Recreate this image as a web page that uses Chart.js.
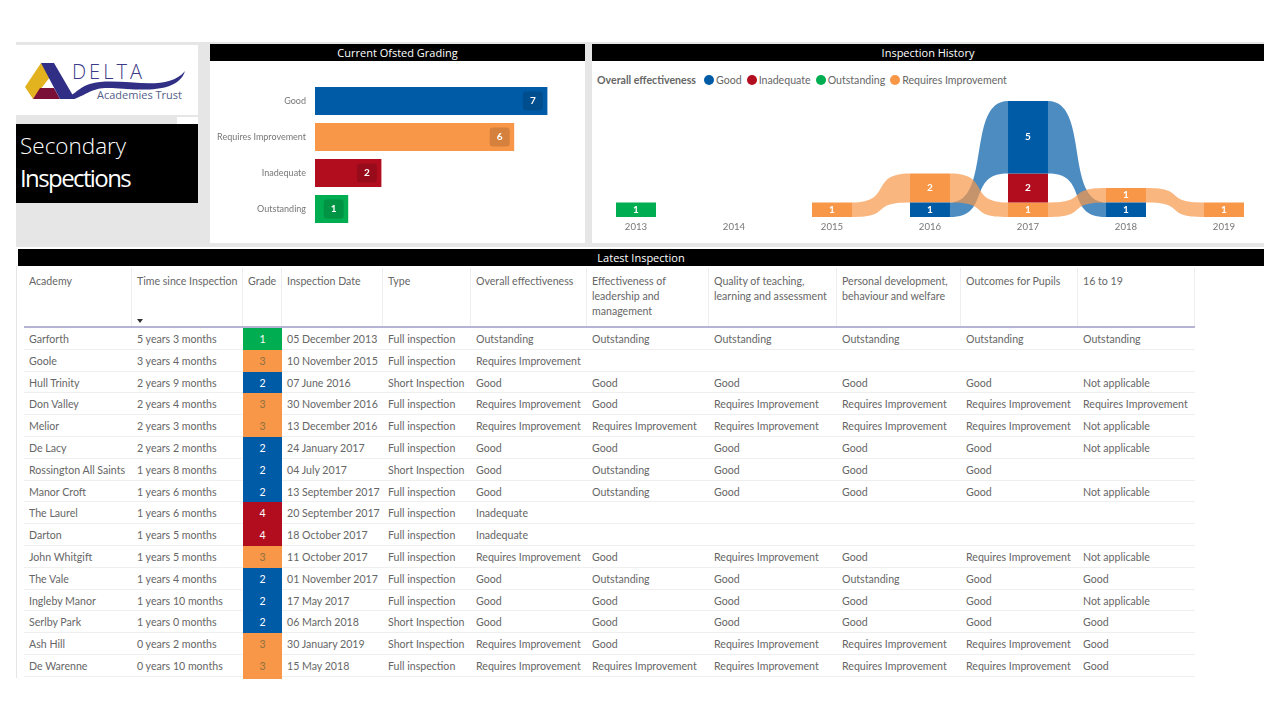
<!DOCTYPE html>
<html lang="en">
<head>
<meta charset="UTF-8">
<title>Secondary Inspections</title>
<script src="https://cdn.jsdelivr.net/npm/chart.js"></script>
<style>
  html, body { margin: 0; background: #fff; }
  body { width: 1280px; height: 720px; overflow: hidden; position: relative; font-family: "Lato", sans-serif; color: #666; }
  .box { position: absolute; }
  .bar-title { background: #000; color: #fff; font-family: "Open Sans", sans-serif; font-size: 11px; text-align: center; height: 17px; line-height: 17px; }
  canvas { position: absolute; }
  #legend { position: absolute; left: 597px; top: 72px; height: 16px; line-height: 16px; font-size: 10.6px; color: #666; white-space: nowrap; }
  #legend b { font-weight: 700; margin-right: 8px; }
  #legend i { display: inline-block; width: 10px; height: 10px; border-radius: 50%; margin: 0 2px 0 0; vertical-align: -1px; }
  #legend span { margin-right: 5px; }
  #tbl { position: absolute; left: 24px; top: 268px; width: 1171px; font-size: 10.6px; }
  .row { display: grid; grid-template-columns: 108px 111px 39px 101px 88px 116px 122px 128px 124px 117px 117px; height: 21.8px; box-sizing: border-box; border-bottom: 1px solid #efefef; }
  .row div { padding-left: 5px; line-height: 23px; white-space: nowrap; overflow: visible; }
  .head { height: 60px; border-bottom: 2px solid #b6b4d4; }
  .head div { line-height: 15px; padding-top: 6px; border-right: 1px solid #eeeef2; position: relative; white-space: normal; box-sizing: border-box; }
  .row .grade { padding: 0; text-align: center; color: #fff; margin-bottom: -1px; }
  .arrow { position: absolute; left: 5px; bottom: 3px; width: 0; height: 0; border-left: 3px solid transparent; border-right: 3px solid transparent; border-top: 4px solid #333; }
</style>
</head>
<body>
<div class="box" style="left:16px;top:42px;width:1248px;height:205px;background:#e6e6e6"></div>
<div class="box" style="left:16px;top:45px;width:182px;height:70px;background:#fff"></div>
<div class="box" style="left:177px;top:117px;width:21px;height:7px;background:#fff"></div>
<div class="box" style="left:16px;top:124px;width:182px;height:79px;background:#000"></div>
<div class="box" style="left:20px;top:128px;color:#fff;font-family:'Open Sans',sans-serif;font-size:22.5px;font-weight:300;line-height:36px">Secondary</div>
<div class="box" style="left:20px;top:160px;color:#fff;font-family:'Open Sans',sans-serif;font-size:24px;line-height:36px;letter-spacing:-1.6px">Inspections</div>

<svg class="box" style="left:16px;top:45px" width="182" height="70" viewBox="16 45 182 70">
  <polygon points="25,87 41,63 50,77 33,99" fill="#e3b21f"/>
  <polygon points="33,99 40,88 54,88 60,99" fill="#7a1038"/>
  <polygon points="41,63 54,63 75,99 60,99" fill="#302f85"/>
  <path d="M62,99 C78,95 78,84 100,82 C130,79 168,92 185,71 C178,94 140,90 112,88 C92,87 88,94 74,99 Z" fill="#302f85"/>
  <text x="72" y="79" font-family="Open Sans" font-size="20" letter-spacing="3" fill="#3a3a86" font-weight="300">DELTA</text>
  <text x="97" y="99" font-family="Open Sans" font-size="11" fill="#55608a">Academies Trust</text>
</svg>

<div class="box" style="left:210px;top:44px;width:375px;height:199px;background:#fff"></div>
<div class="box" style="left:592px;top:44px;width:672px;height:199px;background:#fff"></div>
<div class="box bar-title" style="left:210px;top:44px;width:375px">Current Ofsted Grading</div>
<div class="box bar-title" style="left:592px;top:44px;width:672px">Inspection History</div>
<div class="box bar-title" style="left:18px;top:249px;width:1246px">Latest Inspection</div>
<div class="box" style="left:16px;top:266px;width:1px;height:412px;background:#e6e6e6"></div>

<canvas id="gradingChart" width="375" height="182" style="left:210px;top:61px"></canvas>
<div id="legend"></div>
<canvas id="historyChart" width="686" height="140" style="left:587px;top:95px"></canvas>
<div id="tbl"></div>

<script>
  // Current Ofsted Grading
  const gradeNames = ["Good", "Requires Improvement", "Inadequate", "Outstanding"];
  const gradeCounts = [7, 6, 2, 1];
  const gradeColors = ["#005ba6", "#f89748", "#b20d1f", "#00ad50"];

  // Inspection History
  const years = ["2013", "2014", "2015", "2016", "2017", "2018", "2019"];
  const seriesNames = ["Good", "Inadequate", "Outstanding", "Requires Improvement"];
  const seriesColors = ["#005ba6", "#b20d1f", "#00ad50", "#f89748"];
  const goodByYear = [0, 0, 0, 1, 5, 1, 0];
  const inadequateByYear = [0, 0, 0, 0, 2, 0, 0];
  const outstandingByYear = [1, 0, 0, 0, 0, 0, 0];
  const requiresByYear = [0, 0, 1, 2, 1, 1, 1];
  const seriesValues = [goodByYear, inadequateByYear, outstandingByYear, requiresByYear];

  // Latest Inspection
  const RI = "Requires Improvement", GD = "Good", OS = "Outstanding", NA = "Not applicable", FI = "Full inspection", SI = "Short Inspection";
  const headers = ["Academy", "Time since Inspection", "Grade", "Inspection Date", "Type", "Overall effectiveness", "Effectiveness of leadership and management", "Quality of teaching, learning and assessment", "Personal development, behaviour and welfare", "Outcomes for Pupils", "16 to 19"];
  const academies = ["Garforth", "Goole", "Hull Trinity", "Don Valley", "Melior", "De Lacy", "Rossington All Saints", "Manor Croft", "The Laurel", "Darton", "John Whitgift", "The Vale", "Ingleby Manor", "Serlby Park", "Ash Hill", "De Warenne"];
  const timeSince = ["5 years 3 months", "3 years 4 months", "2 years 9 months", "2 years 4 months", "2 years 3 months", "2 years 2 months", "1 years 8 months", "1 years 6 months", "1 years 6 months", "1 years 5 months", "1 years 5 months", "1 years 4 months", "1 years 10 months", "1 years 0 months", "0 years 2 months", "0 years 10 months"];
  const grades = [1, 3, 2, 3, 3, 2, 2, 2, 4, 4, 3, 2, 2, 2, 3, 3];
  const dates = ["05 December 2013", "10 November 2015", "07 June 2016", "30 November 2016", "13 December 2016", "24 January 2017", "04 July 2017", "13 September 2017", "20 September 2017", "18 October 2017", "11 October 2017", "01 November 2017", "17 May 2017", "06 March 2018", "30 January 2019", "15 May 2018"];
  const types = [FI, FI, SI, FI, FI, FI, SI, FI, FI, FI, FI, FI, FI, SI, SI, FI];
  const overall = [OS, RI, GD, RI, RI, GD, GD, GD, "Inadequate", "Inadequate", RI, GD, GD, GD, RI, RI];
  const leadership = [OS, "", GD, GD, RI, GD, OS, OS, "", "", GD, OS, GD, GD, GD, RI];
  const teaching = [OS, "", GD, RI, RI, GD, GD, GD, "", "", RI, GD, GD, GD, RI, RI];
  const personal = [OS, "", GD, RI, RI, GD, GD, GD, "", "", GD, OS, GD, GD, RI, RI];
  const outcomes = [OS, "", GD, RI, RI, GD, GD, GD, "", "", RI, GD, GD, GD, RI, RI];
  const sixteenTo19 = [OS, "", NA, RI, NA, NA, "", NA, "", "", NA, GD, NA, GD, GD, GD];

  const gradeCellColors = { 1: "#00ad50", 2: "#005ba6", 3: "#f89748", 4: "#b20d1f" };
  const labelFont = 'Lato, sans-serif';

  // dark pill with the value, near the end of each bar
  const pillLabels = {
    id: "pillLabels",
    afterDatasetsDraw(chart) {
      const ctx = chart.ctx;
      const bars = chart.getDatasetMeta(0).data;
      bars.forEach((bar, i) => {
        const cx = bar.x - 14.5;
        ctx.fillStyle = "rgba(0,0,0,0.14)";
        ctx.beginPath();
        ctx.roundRect(cx - 10, bar.y - 9.5, 20, 19, 3);
        ctx.fill();
        ctx.fillStyle = "#fff";
        ctx.font = "700 10px " + labelFont;
        ctx.textAlign = "center";
        ctx.textBaseline = "middle";
        ctx.fillText(gradeCounts[i], cx, bar.y);
      });
    }
  };

  new Chart(document.getElementById("gradingChart"), {
    type: "bar",
    data: {
      labels: gradeNames,
      datasets: [{ data: gradeCounts, backgroundColor: gradeColors, barPercentage: 0.78, categoryPercentage: 1 }]
    },
    options: {
      indexAxis: "y",
      responsive: false,
      animation: false,
      layout: { padding: { top: 22, bottom: 16, right: 4.4 } },
      plugins: { legend: { display: false }, tooltip: { enabled: false } },
      scales: {
        x: { display: false, min: 0, max: 8 },
        y: {
          grid: { display: false, drawTicks: false },
          border: { display: false },
          afterFit: s => { s.width = 105; },
          ticks: { color: "#777", padding: 9, font: { family: labelFont, size: 9 } }
        }
      }
    },
    plugins: [pillLabels]
  });

  // bottom/top of a series in a year: smaller values sit lower in the stack
  function stackRange(seriesIdx, yearIdx) {
    const order = seriesValues.map((v, s) => s).filter(s => seriesValues[s][yearIdx] > 0)
      .sort((a, b) => seriesValues[a][yearIdx] - seriesValues[b][yearIdx] || a - b);
    let base = 0;
    for (const s of order) {
      if (s === seriesIdx) return [base, base + seriesValues[s][yearIdx]];
      base += seriesValues[s][yearIdx];
    }
    return null;
  }

  const ribbons = {
    id: "ribbons",
    beforeDatasetsDraw(chart) {
      const ctx = chart.ctx, x = chart.scales.x, y = chart.scales.y;
      const step = x.getPixelForValue(1) - x.getPixelForValue(0);
      const barHalf = step * 0.204;
      [0, 3].forEach(s => {
        for (let i = 0; i < years.length - 1; i++) {
          const a = stackRange(s, i), b = stackRange(s, i + 1);
          if (!a || !b) continue;
          const x0 = x.getPixelForValue(i) + barHalf, x1 = x.getPixelForValue(i + 1) - barHalf;
          const c0 = x0 + (x1 - x0) * 0.72, c1 = x1 - (x1 - x0) * 0.72;
          ctx.fillStyle = seriesColors[s] + "b3";
          ctx.beginPath();
          ctx.moveTo(x0, y.getPixelForValue(a[1]));
          ctx.bezierCurveTo(c0, y.getPixelForValue(a[1]), c1, y.getPixelForValue(b[1]), x1, y.getPixelForValue(b[1]));
          ctx.lineTo(x1, y.getPixelForValue(b[0]));
          ctx.bezierCurveTo(c1, y.getPixelForValue(b[0]), c0, y.getPixelForValue(a[0]), x0, y.getPixelForValue(a[0]));
          ctx.closePath();
          ctx.fill();
        }
      });
    },
    afterDatasetsDraw(chart) {
      const ctx = chart.ctx;
      ctx.fillStyle = "#fff";
      ctx.font = "700 10px " + labelFont;
      ctx.textAlign = "center";
      ctx.textBaseline = "middle";
      seriesValues.forEach((vals, s) => {
        chart.getDatasetMeta(s).data.forEach((bar, i) => {
          if (vals[i] > 0) ctx.fillText(vals[i], bar.x, (bar.y + bar.base) / 2);
        });
      });
    }
  };

  new Chart(document.getElementById("historyChart"), {
    type: "bar",
    data: {
      labels: years,
      datasets: seriesNames.map((name, s) => ({
        label: name,
        data: years.map((yr, i) => stackRange(s, i)),
        backgroundColor: seriesColors[s],
        grouped: false,
        barPercentage: 0.408,
        categoryPercentage: 1
      }))
    },
    options: {
      responsive: false,
      animation: false,
      layout: { padding: { top: 6 } },
      plugins: { legend: { display: false }, tooltip: { enabled: false } },
      scales: {
        y: { display: false, min: 0, max: 8 },
        x: {
          grid: { display: false, drawTicks: false },
          border: { display: false },
          afterFit: s => { s.height = 18; },
          ticks: { color: "#777", padding: 4, maxRotation: 0, font: { family: labelFont, size: 9.6 } }
        }
      }
    },
    plugins: [ribbons]
  });

  // legend
  document.getElementById("legend").innerHTML = "<b>Overall effectiveness</b>" +
    seriesNames.map((n, s) => `<i style="background:${seriesColors[s]}"></i><span>${n}</span>`).join("");

  // table
  const columns = [academies, timeSince, grades, dates, types, overall, leadership, teaching, personal, outcomes, sixteenTo19];
  let html = '<div class="row head">' + headers.map((h, c) =>
    `<div>${h}${c === 1 ? '<span class="arrow"></span>' : ""}</div>`).join("") + "</div>";
  academies.forEach((a, r) => {
    html += '<div class="row">' + columns.map((col, c) => {
      if (c !== 2) return `<div>${col[r]}</div>`;
      const g = col[r];
      return `<div class="grade" style="background:${gradeCellColors[g]};${g === 3 ? "color:#8f7040" : ""}">${g}</div>`;
    }).join("") + "</div>";
  });
  document.getElementById("tbl").innerHTML = html;
</script>
</body>
</html>
